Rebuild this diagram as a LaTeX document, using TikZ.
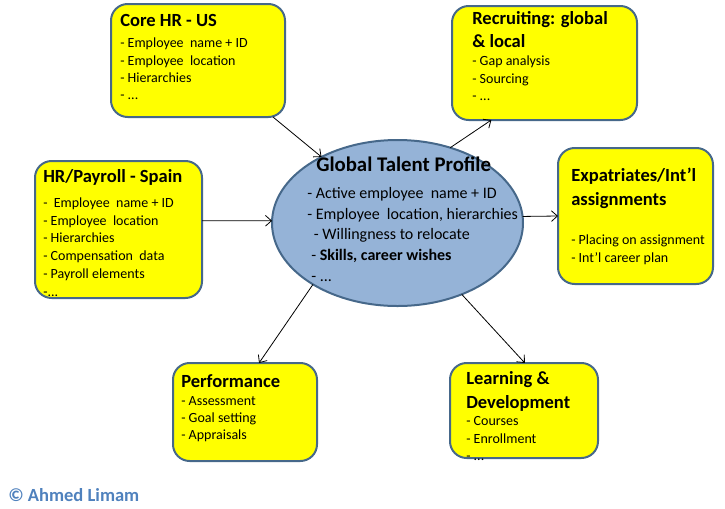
\documentclass[tikz,border=0pt]{standalone}
\usepackage{fontspec}
\setmainfont{Carlito}
\usetikzlibrary{arrows.meta, shapes.geometric}

\begin{document}
\begin{tikzpicture}[x=.75pt,y=-.75pt,
    topic/.style={draw=topicline,fill=topicfill,line width=1.5pt,rounded corners=12.5pt,inner sep=0,outer sep=0},
    heading/.style={anchor=north west,inner sep=0,align=left,execute at begin node=\strut,font=\fontsize{13.9}{17.5}\selectfont\bfseries},
    items/.style={anchor=north west,inner sep=0,align=left,execute at begin node=\strut,font=\fontsize{10.5}{13}\selectfont},
    link/.style={-{Straight Barb[length=4.5pt,width=8pt]},line width=.6pt}]
  \definecolor{topicline}{HTML}{46688A}
  \definecolor{topicfill}{HTML}{FFFF00}
  \definecolor{profile}{HTML}{95B3D7}
  \definecolor{mark}{HTML}{4F81BD}

  \useasboundingbox (0,0) rectangle (725,508);

  \node [topic,minimum width=130.5pt,minimum height=84.75pt] (core) at (198,60.5) {};
  \node [topic,minimum width=125.25pt,minimum height=102.75pt] (payroll) at (118.5,229.5) {};
  \node [topic,minimum width=138.75pt,minimum height=85.5pt] (recruit) at (544.5,63) {};
  \node [topic,minimum width=116.25pt,minimum height=102pt] (expat) at (635.5,216) {};
  \node [topic,minimum width=108pt,minimum height=73.5pt] (perform) at (245,412) {};
  \node [topic,minimum width=111pt,minimum height=71.25pt] (learn) at (524,410.5) {};
  \node [ellipse,draw=topicline,fill=profile,line width=1.5pt,inner sep=0,outer sep=0,
    minimum width=188.25pt,minimum height=124.5pt] (talent) at (397.5,223) {};

  \node [heading] (coretitle) at (120,10) {Core HR - US};
  \node [items] (coreitems) at (120,37.8) {- Employee\ \ name + ID\\- Employee\ \ location\\- Hierarchies\\- ...};

  \node [heading] (payrolltitle) at (43,165.7) {HR/Payroll - Spain};
  \node [items,font=\fontsize{10.5}{13.3}\selectfont] (payrollitems) at (43,197.5) {-\ \ Employee\ \ name + ID\\- Employee\ \ location\\- Hierarchies\\- Compensation\ \ data\\- Payroll elements\\-...};

  \node [heading] (recruittitle) at (472,11) {Recruiting: global\\\& local};
  \node [items] (recruititems) at (472,56) {- Gap analysis\\- Sourcing\\- ...};

  \node [heading] (expattitle) at (571,168) {Expatriates/Int’l\\assignments};
  \node [items] (expatitems) at (571,235) {- Placing on assignment\\- Int’l career plan};

  \node [heading] (performtitle) at (181,370.5) {Performance};
  \node [items] (performitems) at (181,396) {- Assessment\\- Goal setting\\- Appraisals};

  \node [heading] (learntitle) at (466,371.5) {Learning \&\\Development};
  \node [items] (learnitems) at (466,416.5) {- Courses\\- Enrollment\\- ...};

  \node [heading,font=\fontsize{15.6}{17.5}\selectfont\bfseries] (talenttitle) at (316,154.4) {Global Talent Profile};
  \node [items,font=\fontsize{12}{15.4}\selectfont] (talentitems) at (307,187.5)
    {- Active employee\ \ name + ID\\- Employee\ \ location, hierarchies\\\hspace*{5pt}- Willingness to relocate\\\hspace*{3pt}- \textbf{Skills, career wishes}\\\hspace*{3pt}- ...};

  \node [anchor=base west,inner sep=0,text=mark,font=\fontsize{13.9}{16}\selectfont\bfseries] (copyright) at (8,501) {© Ahmed Limam};

  \foreach \source/\target in {core.-37/talent.139,talent.55/recruit.227,payroll.6.5/talent.179.2,
    talent.3/expat.180,talent.216/perform.74,talent.-48/learn.89}
    \draw [link] (\source) -- (\target);
\end{tikzpicture}
\end{document}
